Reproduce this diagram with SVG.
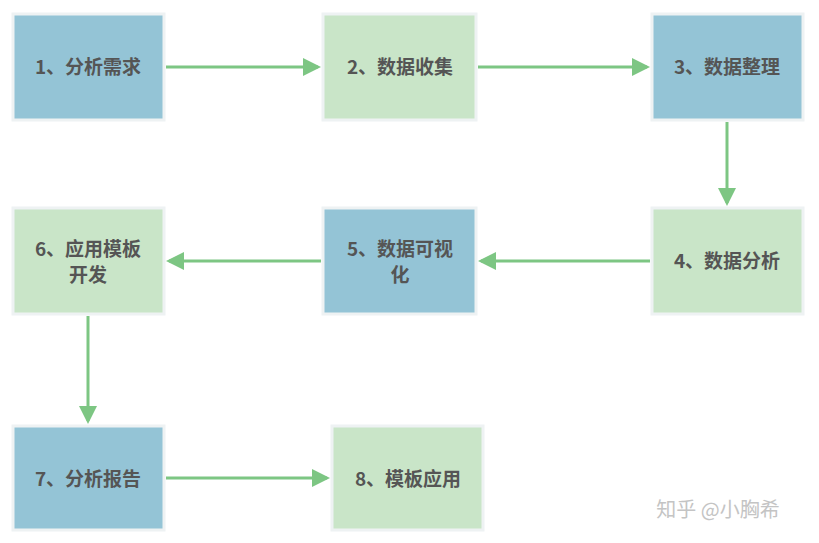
<svg xmlns="http://www.w3.org/2000/svg" width="819" height="543" viewBox="0 0 819 543">
<style>
.b{fill:#94c4d6;stroke:#eef2f3;stroke-width:3}
.g{fill:#c9e5c8;stroke:#eef2f3;stroke-width:3}
text{font-family:"Noto Sans CJK SC","Liberation Sans",sans-serif;font-weight:bold;font-size:19px;fill:#555;text-anchor:middle}
.c line{stroke:#7dc683;stroke-width:3}
.w{font-weight:normal;fill:#c4c4c4;font-size:20px}
</style>
<defs><marker id="a" markerWidth="6" markerHeight="6" refX="5" refY="3" orient="auto"><path d="M0,0L6,3L0,6z" fill="#7dc683"/></marker></defs>
<rect width="819" height="543" fill="#fff"/>
<g id="n1"><rect class="b" x="13" y="14" width="151" height="106"/><text x="88" y="74">1、分析需求</text></g>
<g id="n2"><rect class="g" x="323" y="14" width="153" height="106"/><text x="400" y="74">2、数据收集</text></g>
<g id="n3"><rect class="b" x="652" y="14" width="151" height="106"/><text x="727" y="74">3、数据整理</text></g>
<g id="n4"><rect class="g" x="652" y="208" width="151" height="106"/><text x="727" y="268">4、数据分析</text></g>
<g id="n5"><rect class="b" x="323" y="208" width="153" height="106"/><text x="400" y="256">5、数据可视</text><text x="400" y="282">化</text></g>
<g id="n6"><rect class="g" x="13" y="208" width="151" height="106"/><text x="88" y="256">6、应用模板</text><text x="88" y="282">开发</text></g>
<g id="n7"><rect class="b" x="13" y="426" width="151" height="104"/><text x="88" y="486">7、分析报告</text></g>
<g id="n8"><rect class="g" x="332" y="426" width="151" height="104"/><text x="408" y="486">8、模板应用</text></g>
<g class="c">
<line x1="166" y1="67" x2="318" y2="67" marker-end="url(#a)"/>
<line x1="478" y1="67" x2="647" y2="67" marker-end="url(#a)"/>
<line x1="727" y1="122" x2="727" y2="203" marker-end="url(#a)"/>
<line x1="650" y1="261" x2="481" y2="261" marker-end="url(#a)"/>
<line x1="321" y1="261" x2="169" y2="261" marker-end="url(#a)"/>
<line x1="88" y1="316" x2="88" y2="421" marker-end="url(#a)"/>
<line x1="166" y1="478" x2="327" y2="478" marker-end="url(#a)"/>
</g>
<text class="w" x="718" y="517">知乎 @小胸希</text>
</svg>
